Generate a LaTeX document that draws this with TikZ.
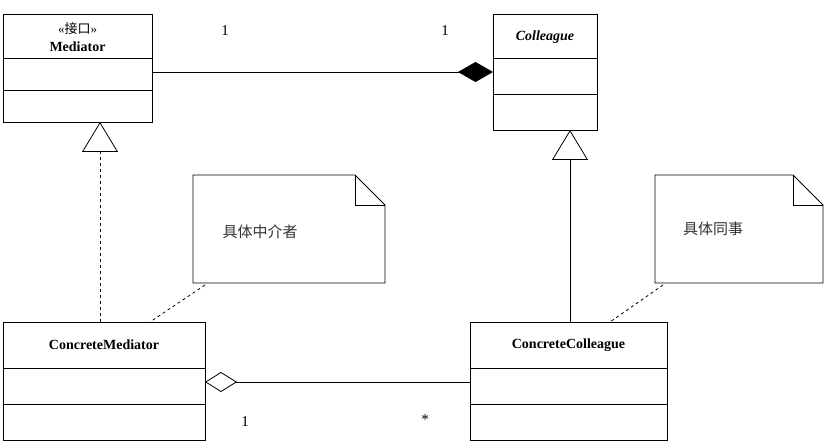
\documentclass[tikz,border=0pt]{standalone}
\usepackage{fontspec}
\setmainfont{Liberation Serif}
\newfontfamily\cjk{Noto Sans CJK SC}
\usetikzlibrary{arrows.meta}
\begin{document}
\begin{tikzpicture}[x=1pt, y=-1pt, line width = 0.8pt,
                    cls/.style = {draw, rectangle, inner sep = 0, fill = white},
                    clsname/.style = {font = \fontsize{14}{16}\selectfont\bfseries},
                    note/.style = {font = \fontsize{15}{17}\selectfont\cjk\color{black!80}},
                    mult/.style = {font = \fontsize{15}{17}\selectfont},
                    inherit/.style = {-{Triangle[open, length = 30pt, width = 36pt, fill = white]}},
                    compose/.style = {-{Diamond[length = 35pt, width = 20pt, fill = black]}},
                    aggr/.style = {-{Diamond[open, length = 32pt, width = 20pt, fill = white]}}]
\useasboundingbox (0,0) rectangle (827,446);

% classes
\node [cls, minimum width = 149pt, minimum height = 108pt] (med) at (77.5,68) {};
\node [cls, minimum width = 104pt, minimum height = 116pt] (col) at (545,72) {};
\node [cls, minimum width = 202pt, minimum height = 118pt] (cmed) at (104,381) {};
\node [cls, minimum width = 197pt, minimum height = 118pt] (ccol) at (568.5,381) {};

% compartments
\draw (3,58) -- (152,58);  \draw (3,90) -- (152,90);
\draw (493,58) -- (597,58); \draw (493,94) -- (597,94);
\draw (3,368) -- (205,368); \draw (3,404) -- (205,404);
\draw (470,368) -- (667,368); \draw (470,404) -- (667,404);

% names
\node [font = \fontsize{13}{15}\selectfont] at (77.5,29) {<<{\cjk 接口}>>};
\node [clsname] at (77.5,47) {Mediator};
\node [clsname] at (545,37) {\itshape Colleague};
\node [clsname] at (104,345) {ConcreteMediator};
\node [clsname] at (568.5,345) {ConcreteColleague};

% notes
\draw [fill = white] (193,175) -- (355,175) -- (385,205) -- (385,283) -- (193,283) -- cycle;
\draw (355,175) -- (355,205) -- (385,205);
\node [note] (n1) at (260,232) {具体中介者};
\coordinate (n1b) at (205,285);
\draw [fill = white] (655,175) -- (793,175) -- (823,205) -- (823,283) -- (655,283) -- cycle;
\draw (793,175) -- (793,205) -- (823,205);
\node [note] (n2) at (713,229) {具体同事};
\coordinate (n2b) at (663,285);

% end points
\coordinate (medR) at (152,72);
\coordinate (colL) at (493,72);
\coordinate (cmedR) at (205,382);
\coordinate (ccolL) at (470,382);
\coordinate (cmedT) at (100,322);
\coordinate (medB) at (100,122);
\coordinate (ccolT) at (570,322);
\coordinate (colB) at (570,130);

% relations
\draw [compose] (medR) -- (colL);
\draw [inherit, dashed] (cmedT) -- (medB);
\draw [inherit] (ccolT) -- (colB);
\draw [aggr] (ccolL) -- (cmedR);
\draw [dashed] (n1b) -- (150,322);
\draw [dashed] (n2b) -- (610,322);

% multiplicities
\node [mult] at (225,31) {1};
\node [mult] at (445,31) {1};
\node [mult] at (245,422) {1};
\node [mult] at (425,420) {*};
\end{tikzpicture}
\end{document}
